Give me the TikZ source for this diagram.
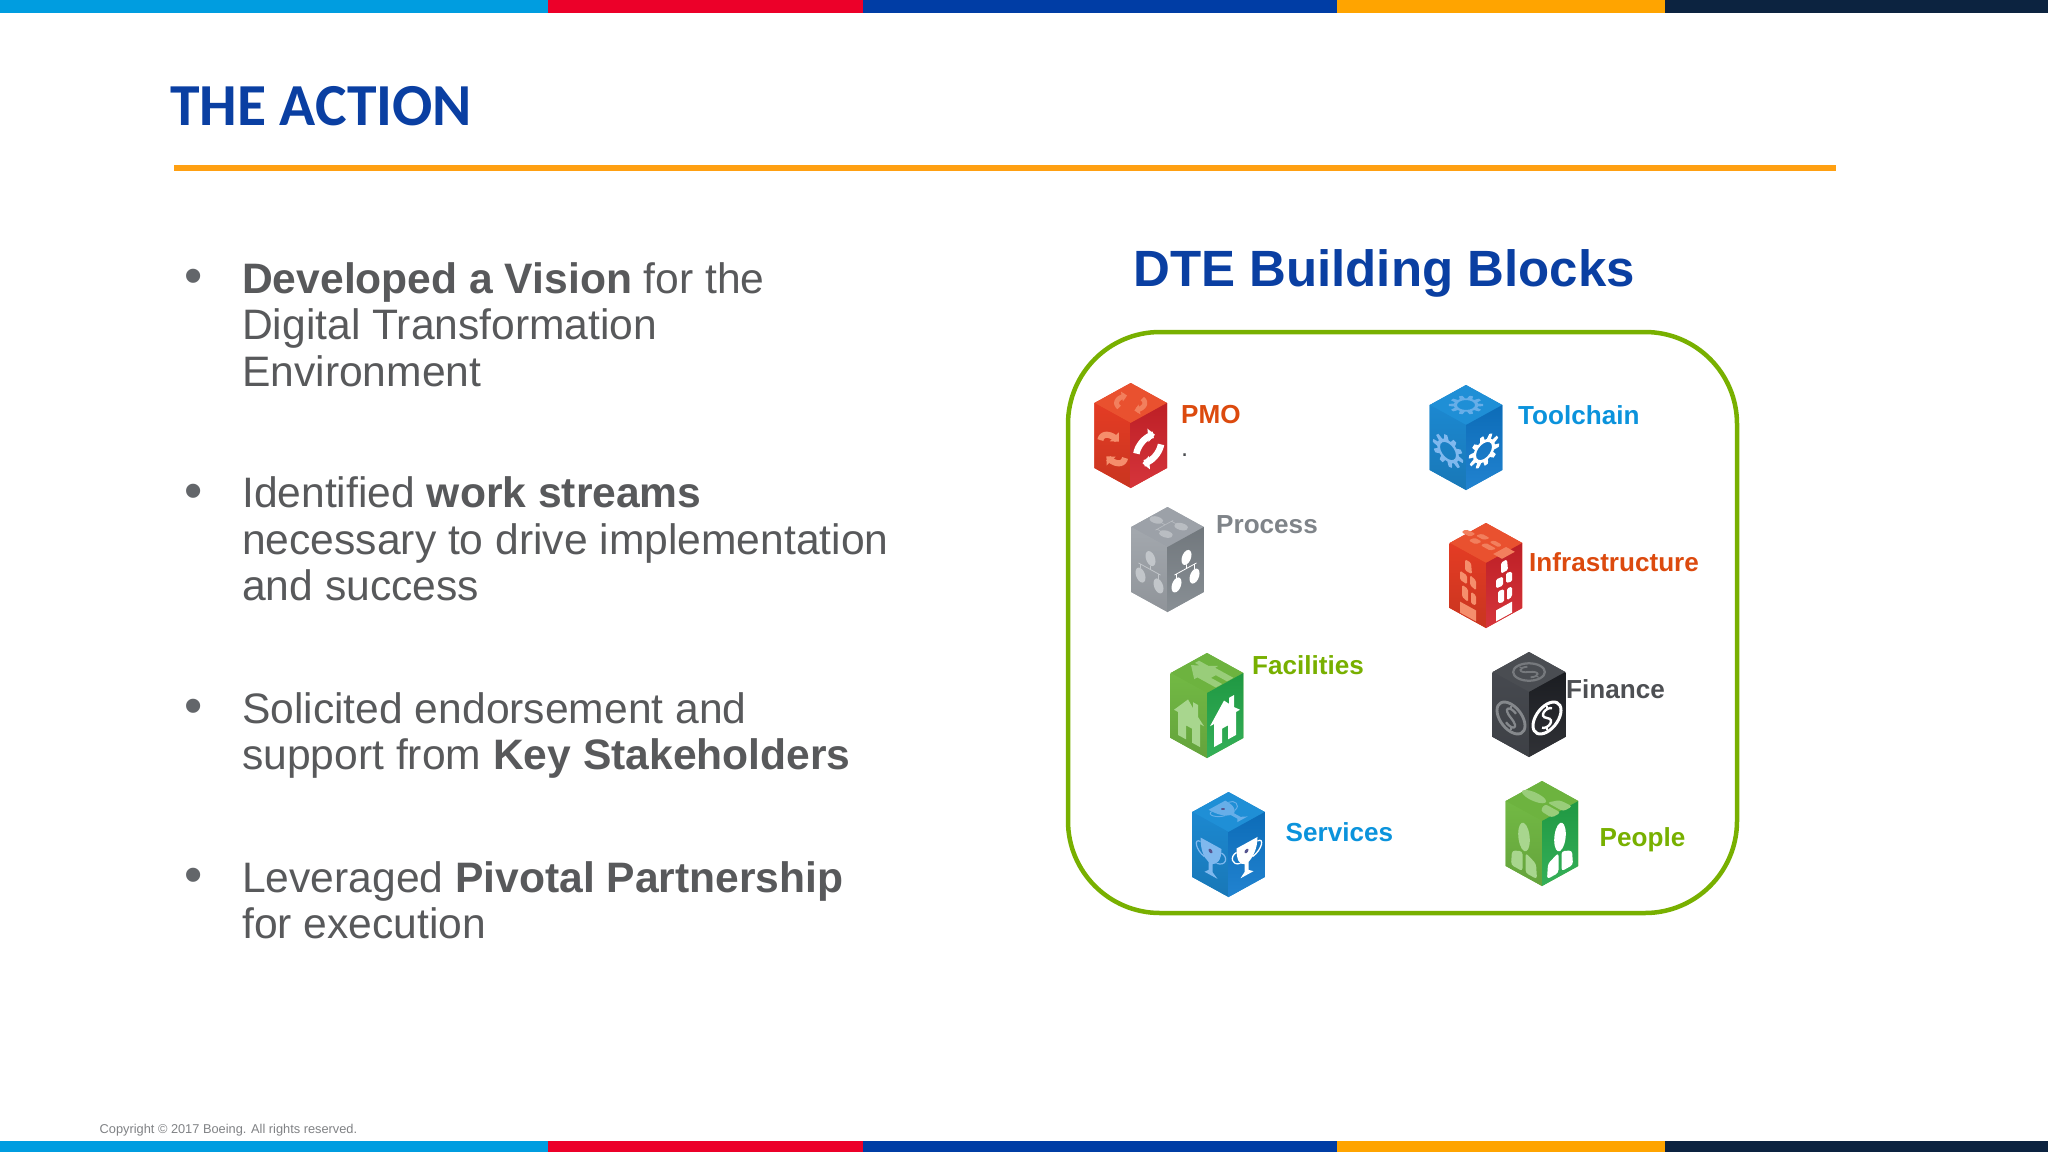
\documentclass[tikz,border=0pt]{standalone}
\usepackage{fontspec}
\setmainfont{Liberation Sans}
\newfontfamily\titlefont{Carlito}
\usetikzlibrary{arrows.meta}
\definecolor{barcyan}{HTML}{009DE0}
\definecolor{barred}{HTML}{EC0029}
\definecolor{barnavy}{HTML}{003DA5}
\definecolor{baramber}{HTML}{FFA400}
\definecolor{bardark}{HTML}{0C2340}
\definecolor{ruleorange}{HTML}{FFA012}
\definecolor{headblue}{HTML}{0A3FA2}
\definecolor{bodygrey}{HTML}{58595B}
\definecolor{bulletgrey}{HTML}{63666A}
\definecolor{framegreen}{HTML}{78B000}
\definecolor{lblorange}{HTML}{DC4A0E}
\definecolor{lblblue}{HTML}{0B93DC}
\definecolor{lblgrey}{HTML}{7F8489}
\definecolor{lbldark}{HTML}{4D4F53}
\definecolor{footgrey}{HTML}{808285}
% cube faces
\definecolor{redT}{HTML}{E9512F}\definecolor{redL}{HTML}{E43C24}\definecolor{redR}{HTML}{D2232A}\definecolor{redP}{HTML}{F58E6C}
\definecolor{bluT}{HTML}{1F8FD6}\definecolor{bluL}{HTML}{1C88D0}\definecolor{bluR}{HTML}{0E78CC}\definecolor{bluP}{HTML}{7FB8EE}
\definecolor{gryT}{HTML}{9CA1A8}\definecolor{gryL}{HTML}{A3A8AE}\definecolor{gryR}{HTML}{7E858B}\definecolor{gryP}{HTML}{C2C6CA}
\definecolor{grnT}{HTML}{6DB33F}\definecolor{grnL}{HTML}{72B944}\definecolor{grnR}{HTML}{23A94A}\definecolor{grnP}{HTML}{A8D68E}
\definecolor{drkT}{HTML}{4A4D52}\definecolor{drkL}{HTML}{46494F}\definecolor{drkR}{HTML}{1E2025}\definecolor{drkP}{HTML}{85888C}
\tikzset{
  barseg/.style={fill=#1,draw=none},
  bodytxt/.style={anchor=base west,inner sep=0pt,align=left,text=bodygrey,font=\fontsize{42.6}{46.3}\selectfont},
  bulletmark/.style={inner sep=0pt,text=bulletgrey,font=\fontsize{52}{52}\selectfont},
  lbl/.style={anchor=base west,inner sep=0pt,text=#1,font=\fontsize{26.1}{30}\selectfont\bfseries},
  faceL/.style={shift={(-18,66)},x={(1pt,-.55pt)},y={(0pt,-1pt)}},
  faceR/.style={shift={(18,66)},x={(1pt,.55pt)},y={(0pt,-1pt)}},
  faceT/.style={shift={(0,20)},x={(1pt,.55pt)},y={(1pt,-.55pt)},scale=.8}
}
\def\icow{1}
% icons, in face units of one px, centred on the origin
\newcommand\icogear[1]{\fill[#1,even odd rule] plot[domain=0:360,samples=121]
  ({(13+2.2*max(min(3*sin(10*\x),1),-1))*cos(\x)},{(13+2.2*max(min(3*sin(10*\x),1),-1))*sin(\x)}) -- cycle (0,0) circle[radius=8];}
\newcommand\icocycle[1]{%
  \draw[#1,line width=\icow*6.5pt,-{Triangle[width=13pt,length=7pt,scale=\icow]}] plot[domain=190:300,samples=12] ({12.5*cos(\x)},{12.5*sin(\x)});
  \draw[#1,line width=\icow*6.5pt,-{Triangle[width=13pt,length=7pt,scale=\icow]}] plot[domain=10:120,samples=12] ({12.5*cos(\x)},{12.5*sin(\x)});}
\newcommand\icohouse[1]{\fill[#1] (-15,-1) -- (-1,-19) -- (4,-13) -- (4,-19) -- (9,-19) -- (9,-7) -- (15,-1) -- (11,-1) -- (11,22) -- (3,22) -- (3,8) -- (-3,8) -- (-3,22) -- (-11,22) -- (-11,-1) -- cycle;}
\newcommand\icodollar[1]{\draw[#1,line width=\icow*3pt] (0,0) circle[radius=14];
  \draw[#1,line width=\icow*2.4pt] (5,-7) .. controls (-1,-12) and (-9,-6) .. (0,0) .. controls (9,6) and (1,12) .. (-5,7);
  \draw[#1,line width=\icow*1.4pt] (0,-12) -- (0,-8) (0,8) -- (0,12);}
\newcommand\icotrophy[1]{\fill[#1] (-10,-15) -- (11,-15) .. controls (11,-3) and (6,3) .. (2,5) -- (2,13) -- (7,17) -- (-6,17) -- (-2,13) -- (-2,5) .. controls (-7,3) and (-10,-3) .. (-10,-15) -- cycle;
  \draw[#1,line width=\icow*1.3pt] (-10,-11) .. controls (-17,-11) and (-15,0) .. (-6,2);
  \draw[#1,line width=\icow*1.3pt] (11,-11) .. controls (18,-11) and (16,0) .. (6,2);
  \fill[bluR!70!red] (0,-7) circle[radius=2];}
\newcommand\icoperson[1]{\fill[#1] (0,-10) ellipse[x radius=5.8,y radius=14];
  \fill[#1,rounded corners=3pt] (-1.5,5) -- (-12,10) -- (-13,25) -- (-1.5,25) -- cycle;
  \fill[#1,rounded corners=3pt] (1.5,5) -- (12,10) -- (13,25) -- (1.5,25) -- cycle;}
\newcommand\icoprocess[1]{\fill[#1] (1,-15) ellipse[x radius=5,y radius=7];
  \fill[#1] (-9,7) ellipse[x radius=5,y radius=7];
  \fill[#1] (9,8) ellipse[x radius=5,y radius=7];
  \draw[#1,line width=\icow*.8pt] (-11,-4) -- (11,-4) (1,-8) -- (1,-4) (-9,-4) -- (-9,0) (9,-4) -- (9,1);}
\newcommand\icoplant[1]{\fill[#1] (-8,17) -- (8,17) -- (8,28) -- (-8,28) -- cycle;
  \fill[#1,rounded corners=1.5pt] (-3,-28) -- (3,-28) -- (4,-17) -- (-3,-17) -- cycle;
  \fill[#1,rounded corners=1.5pt] (-8,-14) -- (-1,-13) -- (-1,-4) -- (-8,-5) -- cycle;
  \fill[#1,rounded corners=1.5pt] (2,-15) -- (8,-13) -- (8,-3) -- (2,-5) -- cycle;
  \fill[#1,rounded corners=1.5pt] (-6,-1) -- (0,0) -- (0,13) -- (-6,11) -- cycle;
  \fill[#1,rounded corners=1.5pt] (3,1) -- (8,2) -- (8,12) -- (3,13) -- cycle;}
% x, y of top apex, top colour, left colour, right colour, pale colour, icon
\newcommand\dtecube[7]{%
\begin{scope}[shift={(#1,#2)}]
  \fill[#4] (0,0) -- (36.3,20) -- (36.3,85) -- (0,105) -- (-36.3,85) -- (-36.3,20) -- cycle;
  \fill[#3] (0,0) -- (36.3,20) -- (0,40) -- (-36.3,20) -- cycle;
  \shade[top color=#4,bottom color=#4!88!black] (-36.3,20) -- (0,40) -- (0,105) -- (-36.3,85) -- cycle;
  \shade[top color=#5!90!black,bottom color=#5!92!white] (0,40) -- (36.3,20) -- (36.3,85) -- (0,105) -- cycle;
  \begin{scope}[faceT]\def\icow{.75}#7{#6!75!#3}\end{scope}
  \begin{scope}[faceL]\def\icow{.95}#7{#6}\end{scope}
  \begin{scope}[faceR]\def\icow{1}#7{white}\end{scope}
\end{scope}}
\begin{document}
\begin{tikzpicture}[x=1pt,y=-1pt]
\useasboundingbox (0,0) rectangle (2048,1152);
\fill[white] (0,0) rectangle (2048,1152);
% colour bars
\foreach \ya/\yb in {0/13,1141/1152}{
  \fill[barseg=barcyan] (0,\ya) rectangle (548,\yb);
  \fill[barseg=barred] (548,\ya) rectangle (863,\yb);
  \fill[barseg=barnavy] (863,\ya) rectangle (1337,\yb);
  \fill[barseg=baramber] (1337,\ya) rectangle (1665,\yb);
  \fill[barseg=bardark] (1665,\ya) rectangle (2048,\yb);
}
% heading and rule
\node[anchor=base west,inner sep=0pt,text=headblue,font=\fontsize{59.6}{60}\selectfont\titlefont\bfseries] (title) at (170,125.5) {THE ACTION};
\fill[ruleorange] (174,165) rectangle (1836,171);
% bullets
\node[bulletmark] (m1) at (194,281) {•};
\node[bulletmark] (m2) at (194,496.5) {•};
\node[bulletmark] (m3) at (194,711.5) {•};
\node[bulletmark] (m4) at (194,880) {•};
\node[bodytxt] (b1) at (242,386) {\textbf{Developed a Vision} for the\\Digital Transformation\\Environment};
\node[bodytxt] (b2) at (242,600.5) {Identified \textbf{work streams}\\necessary to drive implementation\\and success};
\node[bodytxt] (b3) at (242,769.3) {Solicited endorsement and\\support from \textbf{Key Stakeholders}};
\node[bodytxt] (b4) at (242,938.3) {Leveraged \textbf{Pivotal Partnership}\\for execution};
% right panel
\node[anchor=base west,inner sep=0pt,text=headblue,font=\fontsize{51}{54}\selectfont\bfseries] (dte) at (1133,286.5) {DTE Building Blocks};
\draw[framegreen,line width=4.5pt,rounded corners=92pt] (1068,332) rectangle (1737,913);
% blocks
\dtecube{1130.7}{383}{redT}{redL}{redR}{redP}{\icocycle}
\dtecube{1466}{385}{bluT}{bluL}{bluR}{bluP}{\icogear}
\dtecube{1167.5}{507}{gryT}{gryL}{gryR}{gryP}{\icoprocess}
\dtecube{1486}{523}{redT}{redL}{redR}{redP}{\icoplant}
\dtecube{1207}{653}{grnT}{grnL}{grnR}{grnP}{\icohouse}
\dtecube{1529}{652}{drkT}{drkL}{drkR}{drkP}{\icodollar}
\dtecube{1228.5}{792}{bluT}{bluL}{bluR}{bluP}{\icotrophy}
\dtecube{1542}{781}{grnT}{grnL}{grnR}{grnP}{\icoperson}
% labels
\node[lbl=lblorange] (lpmo) at (1181,423) {PMO};
\node[anchor=base west,inner sep=0pt,text=lbldark,font=\fontsize{25.6}{30}\selectfont] (ldot) at (1181,456) {.};
\node[lbl=lblblue] (ltool) at (1518,424.5) {Toolchain};
\node[lbl=lblgrey] (lproc) at (1216,533.5) {Process};
\node[lbl=lblorange] (linfra) at (1529,571) {Infrastructure};
\node[lbl=framegreen] (lfac) at (1252,674) {Facilities};
\node[lbl=lbldark] (lfin) at (1566,698) {Finance};
\node[lbl=lblblue] (lserv) at (1285.5,841) {Services};
\node[lbl=framegreen] (lpeop) at (1599.5,846) {People};
% footer
\node[anchor=base west,inner sep=0pt,text=footgrey,font=\fontsize{12.8}{15}\selectfont] (foot) at (99.5,1133) {Copyright © 2017 Boeing. All rights reserved.};
\end{tikzpicture}
\end{document}
